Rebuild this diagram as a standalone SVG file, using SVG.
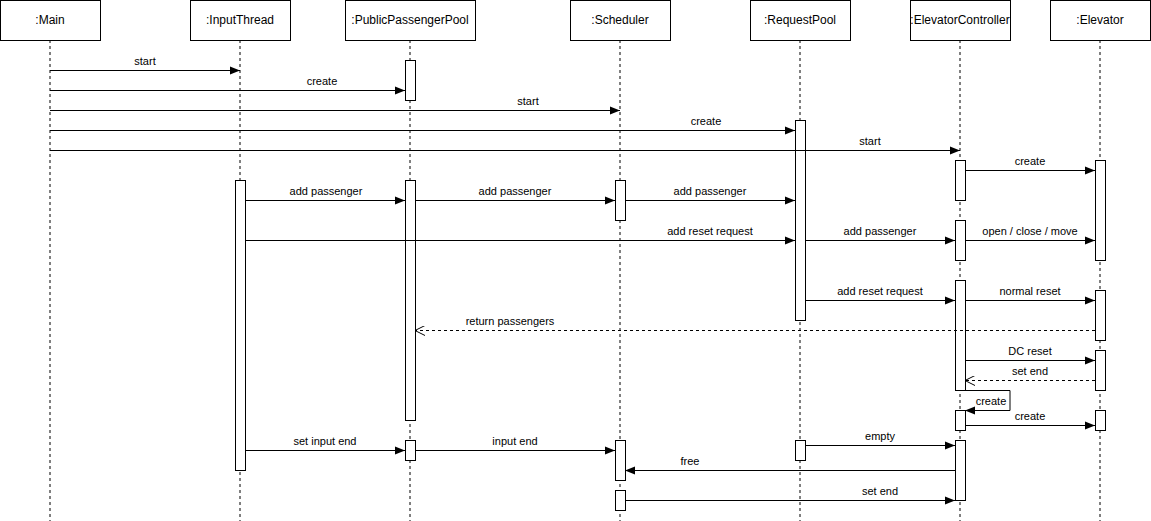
<svg xmlns="http://www.w3.org/2000/svg" width="1151" height="521" viewBox="0 0 1151 521">
<style>
.box{fill:#fff;stroke:#000;stroke-width:1}
.ll{stroke:#000;stroke-dasharray:3 3;fill:none}
.m{stroke:#000;fill:none;marker-end:url(#f)}
.r{stroke:#000;fill:none;stroke-dasharray:3 3;marker-end:url(#o)}
text{font-family:"Liberation Sans",Arial,sans-serif;font-size:11px;text-anchor:middle;fill:#000}
.h{font-size:12px}
</style>
<defs>
<marker id="f" viewBox="0 0 10 10" refX="10" refY="5" markerWidth="10" markerHeight="10" markerUnits="userSpaceOnUse" orient="auto"><path d="M0,1 L10,5 L0,9 Z" fill="#000"/></marker>
<marker id="o" viewBox="0 0 10 10" refX="10" refY="5" markerWidth="10" markerHeight="10" markerUnits="userSpaceOnUse" orient="auto"><path d="M0,0 L10,5 L0,10" fill="none" stroke="#000"/></marker>
</defs>
<rect width="1151" height="521" fill="#fff"/>
<g id="lifelines">
<path class="ll" d="M50,40V521M240,40V521M410,40V521M620,40V521M800,40V521M960,40V521M1100,40V521"/>
</g>
<g id="main"><rect class="box" x="0.5" y="0.5" width="100" height="40"/><text class="h" x="50" y="24">:Main</text></g>
<g id="inputthread"><rect class="box" x="190.5" y="0.5" width="100" height="40"/><text class="h" x="240" y="24">:InputThread</text></g>
<g id="ppp"><rect class="box" x="345.5" y="0.5" width="130" height="40"/><text class="h" x="410" y="24">:PublicPassengerPool</text></g>
<g id="scheduler"><rect class="box" x="570.5" y="0.5" width="100" height="40"/><text class="h" x="620" y="24">:Scheduler</text></g>
<g id="requestpool"><rect class="box" x="750.5" y="0.5" width="100" height="40"/><text class="h" x="800" y="24">:RequestPool</text></g>
<g id="ec"><rect class="box" x="910.5" y="0.5" width="100" height="40"/><text class="h" x="960" y="24">:ElevatorController</text></g>
<g id="elevator"><rect class="box" x="1050.5" y="0.5" width="100" height="40"/><text class="h" x="1100" y="24">:Elevator</text></g>
<g id="activations">
<rect class="box" x="405.5" y="60.5" width="10" height="40"/>
<rect class="box" x="795.5" y="120.5" width="10" height="200"/>
<rect class="box" x="955.5" y="160.5" width="10" height="40"/>
<rect class="box" x="1095.5" y="160.5" width="10" height="100"/>
<rect class="box" x="235.5" y="180.5" width="10" height="290"/>
<rect class="box" x="405.5" y="180.5" width="10" height="240"/>
<rect class="box" x="615.5" y="180.5" width="10" height="40"/>
<rect class="box" x="955.5" y="220.5" width="10" height="40"/>
<rect class="box" x="955.5" y="280.5" width="10" height="110"/>
<rect class="box" x="1095.5" y="290.5" width="10" height="50"/>
<rect class="box" x="1095.5" y="350.5" width="10" height="40"/>
<rect class="box" x="955.5" y="410.5" width="10" height="20"/>
<rect class="box" x="1095.5" y="410.5" width="10" height="20"/>
<rect class="box" x="405.5" y="440.5" width="10" height="20"/>
<rect class="box" x="615.5" y="440.5" width="10" height="40"/>
<rect class="box" x="795.5" y="440.5" width="10" height="20"/>
<rect class="box" x="955.5" y="440.5" width="10" height="60"/>
<rect class="box" x="615.5" y="490.5" width="10" height="20"/>
</g>
<g id="connectors">
<path class="m" d="M50,70.5H240"/><text x="145" y="65">start</text>
<path class="m" d="M50,90.5H405"/><text x="322" y="85">create</text>
<path class="m" d="M50,110.5H620"/><text x="528" y="105">start</text>
<path class="m" d="M50,130.5H795"/><text x="706" y="125">create</text>
<path class="m" d="M50,150.5H960"/><text x="870" y="145">start</text>
<path class="m" d="M965,170.5H1095"/><text x="1030" y="165">create</text>
<path class="m" d="M245,200.5H405"/><text x="326" y="195">add passenger</text>
<path class="m" d="M415,200.5H615"/><text x="515" y="195">add passenger</text>
<path class="m" d="M625,200.5H795"/><text x="710" y="195">add passenger</text>
<path class="m" d="M245,240.5H795"/><text x="710" y="235">add reset request</text>
<path class="m" d="M805,240.5H955"/><text x="880" y="235">add passenger</text>
<path class="m" d="M965,240.5H1095"/><text x="1030" y="235">open / close / move</text>
<path class="m" d="M805,300.5H955"/><text x="880" y="295">add reset request</text>
<path class="m" d="M965,300.5H1095"/><text x="1030" y="295">normal reset</text>
<path class="r" d="M1095,330.5H415"/><text x="510" y="325">return passengers</text>
<path class="m" d="M965,360.5H1095"/><text x="1030" y="355">DC reset</text>
<path class="r" d="M1095,380.5H965"/><text x="1030" y="375">set end</text>
<path class="m" d="M965,390.5H1010V410.5H965"/><text x="991" y="405">create</text>
<path class="m" d="M965,425.5H1095"/><text x="1030" y="420">create</text>
<path class="m" d="M245,450.5H405"/><text x="325" y="445">set input end</text>
<path class="m" d="M415,450.5H615"/><text x="515" y="445">input end</text>
<path class="m" d="M805,445.5H955"/><text x="880" y="440">empty</text>
<path class="m" d="M955,470.5H625"/><text x="690" y="465">free</text>
<path class="m" d="M625,500.5H955"/><text x="880" y="495">set end</text>
</g>
</svg>
